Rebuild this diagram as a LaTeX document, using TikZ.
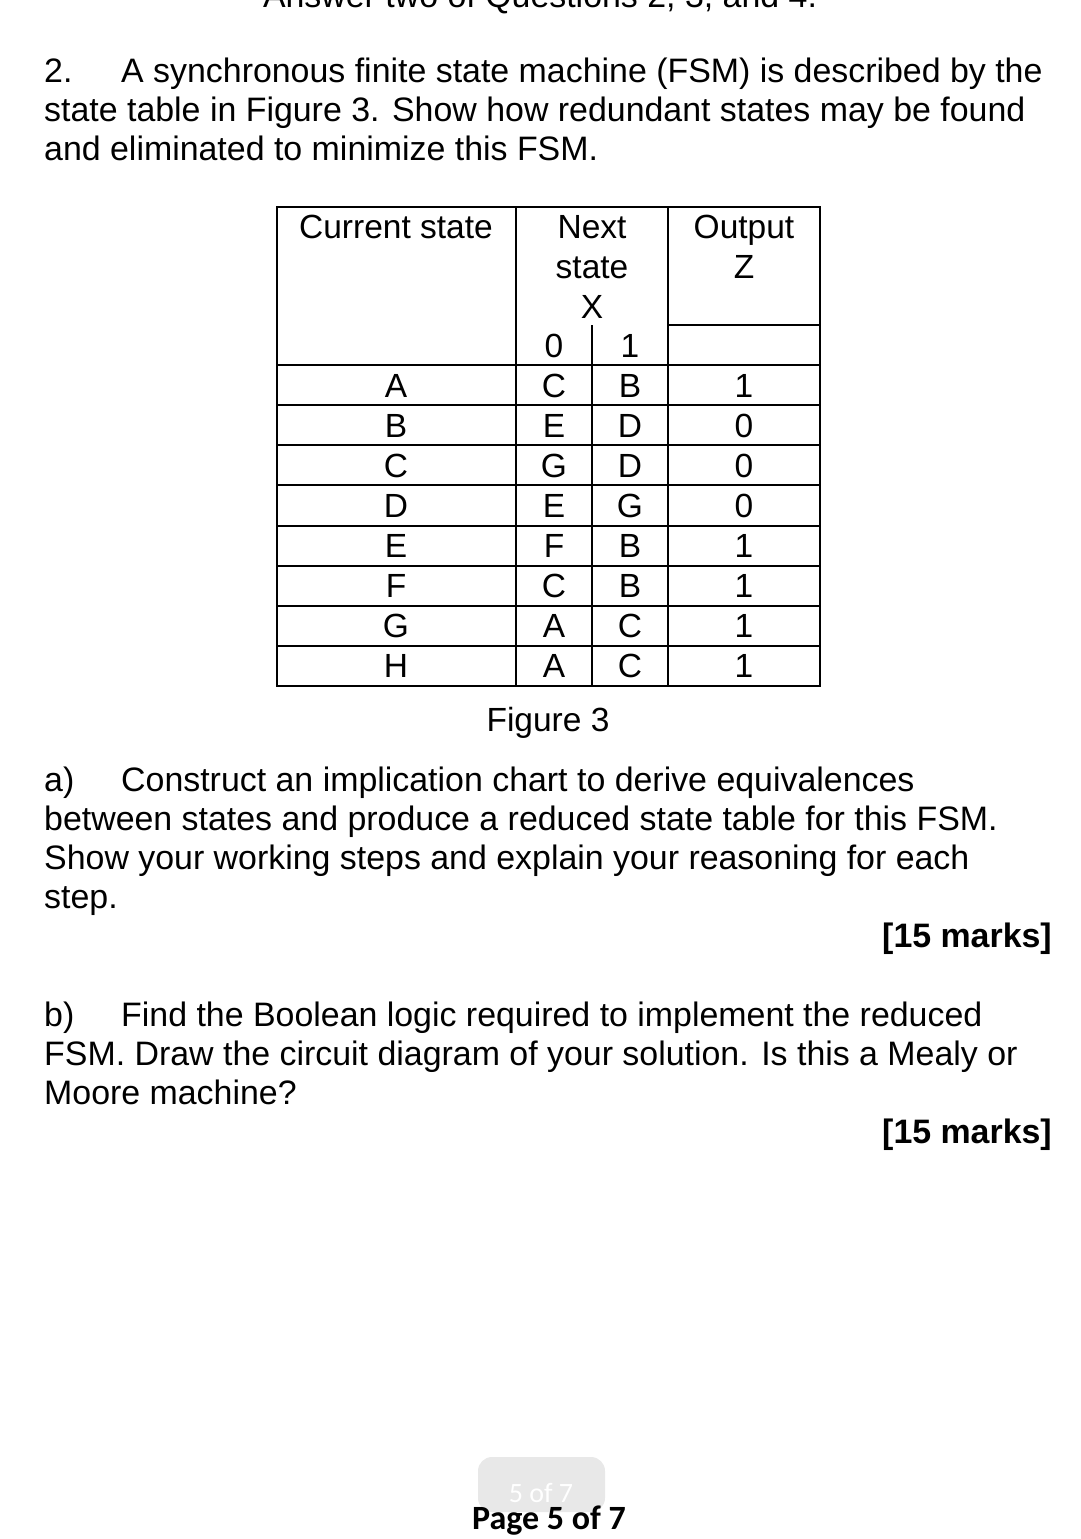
\documentclass[tikz,border=0pt]{standalone}
\usepackage{fontspec}
\setmainfont{Liberation Sans}
\newfontfamily\calib{Carlito}
\begin{document}
\begin{tikzpicture}[x=1pt,y=-1pt,
  txt/.style={anchor=base west,inner sep=0pt,font=\fontsize{33.9}{40}\selectfont},
  tc/.style={anchor=base,inner sep=0pt,font=\fontsize{33.5}{40}\selectfont},
  grid/.style={line width=1.3pt}]
\useasboundingbox (0,0) rectangle (1080,1539);
\begin{scope}
\clip (0,0) rectangle (1080,1539);
\node[tc,font=\fontsize{33.9}{40}\selectfont] (top) at (540,7) {Answer two of Questions 2, 3, and 4.};
\end{scope}
\node[txt] (n2) at (44,82) {2.};
\node[txt] (l1) at (121,82) {A synchronous finite state machine (FSM) is described by the};
\node[txt] (l2) at (44,121) {state table in Figure 3. Show how redundant states may be found};
\node[txt] (l3) at (44,160) {and eliminated to minimize this FSM.};
% table
\draw[grid] (277,207) rectangle (820,686);
\draw[grid] (516,207) -- (516,686) (668,207) -- (668,686) (592,325) -- (592,686);
\draw[grid] (668,325) -- (820,325);
\foreach \y in {365,405,445,485,526,566,606,646} \draw[grid] (277,\y) -- (820,\y);
\node[tc] (h1) at (396,238) {Current state};
\node[tc] (h2) at (592,238) {Next};
\node[tc] (h3) at (592,278) {state};
\node[tc] (h4) at (592,318) {X};
\node[tc] (h5) at (744,238) {Output};
\node[tc] (h6) at (744,278) {Z};
\node[tc] (c0) at (554,357) {0};
\node[tc] (c1) at (630,357) {1};
\foreach \s/\a/\b/\z [count=\i] in {A/C/B/1,B/E/D/0,C/G/D/0,D/E/G/0,E/F/B/1,F/C/B/1,G/A/C/1,H/A/C/1}{
  \pgfmathsetmacro\yy{365+40.1*\i-8}
  \node[tc] (s\i) at (396,\yy) {\s};
  \node[tc] (a\i) at (554,\yy) {\a};
  \node[tc] (b\i) at (630,\yy) {\b};
  \node[tc] (z\i) at (744,\yy) {\z};
}
\node[tc] (fig) at (548,731) {Figure 3};
\node[txt] (a0) at (44,791) {a)};
\node[txt] (a1) at (121,791) {Construct an implication chart to derive equivalences};
\node[txt] (a2) at (44,830) {between states and produce a reduced state table for this FSM.};
\node[txt] (a3) at (44,869) {Show your working steps and explain your reasoning for each};
\node[txt] (a4) at (44,908) {step.};
\node[txt,anchor=base east,font=\fontsize{33.9}{40}\selectfont\bfseries] (m1) at (1052,947) {[15 marks]};
\node[txt] (b0) at (44,1026) {b)};
\node[txt] (b1) at (121,1026) {Find the Boolean logic required to implement the reduced};
\node[txt] (b2) at (44,1065) {FSM. Draw the circuit diagram of your solution. Is this a Mealy or};
\node[txt] (b3) at (44,1104) {Moore machine?};
\node[txt,anchor=base east,font=\fontsize{33.9}{40}\selectfont\bfseries] (m2) at (1052,1143) {[15 marks]};
\fill[black!9,rounded corners=14pt] (478,1457) rectangle (605,1512);
\node[tc,font=\calib\fontsize{28}{32}\selectfont,text=white] (pg1) at (541,1502) {5 of 7};
\node[tc,font=\calib\fontsize{34}{40}\selectfont\bfseries] (pg2) at (549,1529) {Page 5 of 7};
\end{tikzpicture}
\end{document}
